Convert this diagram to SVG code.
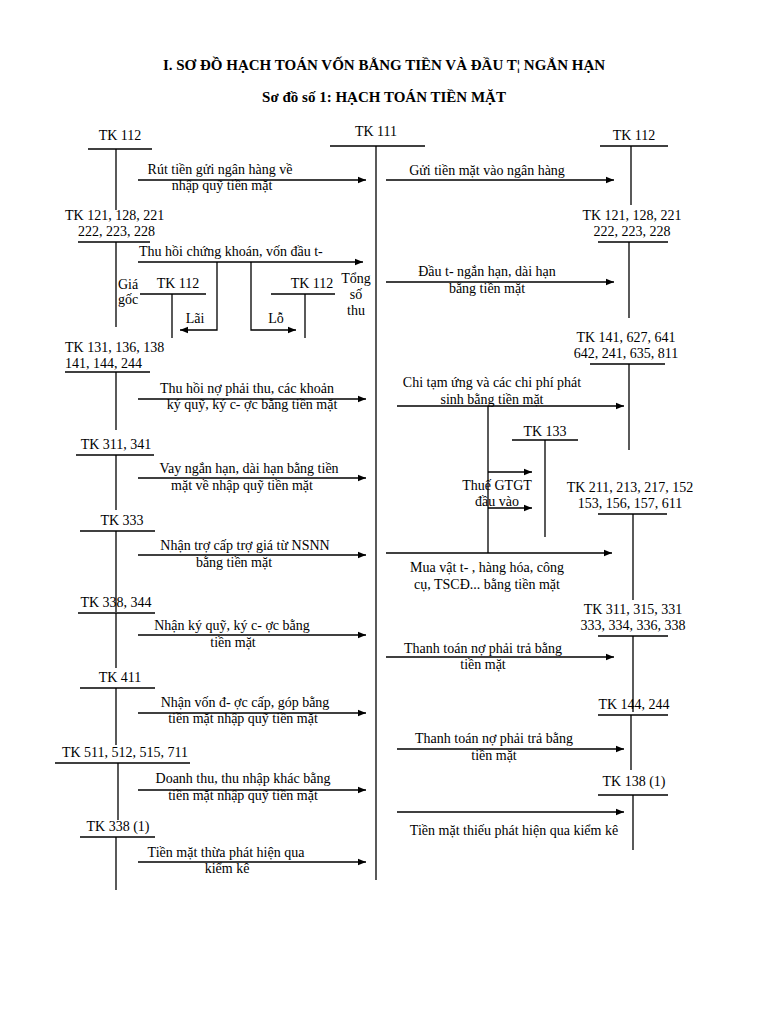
<svg xmlns="http://www.w3.org/2000/svg" width="768" height="1024" viewBox="0 0 768 1024">
<defs>
<marker id="ah" viewBox="0 0 10 10" refX="10" refY="5" markerWidth="8" markerHeight="8" orient="auto" markerUnits="userSpaceOnUse"><path d="M0,1 L10,5 L0,9 Z" fill="#000"/></marker>
<style>
text{font-family:"Liberation Serif",serif;font-size:14px;fill:#000}
.t{font-weight:bold;font-size:15px}
.m{text-anchor:middle}
line,polyline{stroke:#000;stroke-width:1.3;fill:none}
.a{marker-end:url(#ah)}
</style>
</defs>
<rect width="768" height="1024" fill="#fff"/>
<text class="t m" x="384" y="70">I. SƠ ĐỒ HẠCH TOÁN VỐN BẰNG TIỀN VÀ ĐẦU T¦ NGẮN HẠN</text>
<text class="t m" x="384" y="102">Sơ đồ số 1: HẠCH TOÁN TIỀN MẶT</text>
<g id="tk111"><text class="m" x="376" y="136">TK 111</text><line x1="330" y1="146" x2="425" y2="146"/><line x1="376" y1="146" x2="376" y2="880"/></g>
<g id="l112"><text class="m" x="120" y="140">TK 112</text><line x1="88" y1="149" x2="152" y2="149"/><line x1="116" y1="149" x2="116" y2="210"/></g>
<g id="l121"><text x="65" y="220">TK 121, 128, 221</text><text x="78" y="236">222, 223, 228</text><line x1="78" y1="242" x2="150" y2="242"/><line x1="116" y1="242" x2="116" y2="327"/></g>
<g id="s112a"><text class="m" x="178" y="288">TK 112</text><line x1="140" y1="294" x2="206" y2="294"/><line x1="172" y1="294" x2="172" y2="338"/></g>
<g id="s112b"><text class="m" x="312" y="288">TK 112</text><line x1="271" y1="294" x2="335" y2="294"/><line x1="305" y1="294" x2="305" y2="338"/></g>
<g id="l131"><text x="65" y="352">TK 131, 136, 138</text><text x="65" y="368">141, 144, 244</text><line x1="65" y1="372" x2="150" y2="372"/><line x1="116" y1="372" x2="116" y2="430"/></g>
<g id="l311"><text class="m" x="116" y="449">TK 311, 341</text><line x1="76" y1="455" x2="154" y2="455"/><line x1="116" y1="455" x2="116" y2="510"/></g>
<g id="l333"><text class="m" x="122" y="525">TK 333</text><line x1="80" y1="531" x2="155" y2="531"/><line x1="116" y1="531" x2="116" y2="612"/></g>
<g id="l338"><text class="m" x="116" y="607">TK 338, 344</text><line x1="78" y1="613" x2="155" y2="613"/><line x1="116" y1="613" x2="116" y2="668"/></g>
<g id="l411"><text class="m" x="120" y="682">TK 411</text><line x1="80" y1="688" x2="155" y2="688"/><line x1="116" y1="688" x2="116" y2="745"/></g>
<g id="l511"><text class="m" x="125" y="757">TK 511, 512, 515, 711</text><line x1="55" y1="763" x2="190" y2="763"/><line x1="118" y1="763" x2="118" y2="820"/></g>
<g id="l3381"><text class="m" x="118" y="831">TK 338 (1)</text><line x1="80" y1="837" x2="155" y2="837"/><line x1="116" y1="837" x2="116" y2="890"/></g>
<g id="r112"><text class="m" x="634" y="140">TK 112</text><line x1="600" y1="146" x2="668" y2="146"/><line x1="631" y1="146" x2="631" y2="205"/></g>
<g id="r121"><text class="m" x="632" y="220">TK 121, 128, 221</text><text class="m" x="632" y="236">222, 223, 228</text><line x1="598" y1="242" x2="668" y2="242"/><line x1="629" y1="242" x2="629" y2="318"/></g>
<g id="r141"><text class="m" x="626" y="342">TK 141, 627, 641</text><text class="m" x="626" y="358">642, 241, 635, 811</text><line x1="590" y1="364" x2="665" y2="364"/><line x1="629" y1="364" x2="629" y2="450"/></g>
<g id="r133"><text class="m" x="545" y="436">TK 133</text><line x1="512" y1="440" x2="578" y2="440"/><line x1="545" y1="440" x2="545" y2="537"/></g>
<g id="r211"><text class="m" x="630" y="492">TK 211, 213, 217, 152</text><text class="m" x="630" y="508">153, 156, 157, 611</text><line x1="598" y1="514" x2="667" y2="514"/><line x1="633" y1="514" x2="633" y2="600"/></g>
<g id="r311"><text class="m" x="633" y="614">TK 311, 315, 331</text><text class="m" x="633" y="630">333, 334, 336, 338</text><line x1="598" y1="636" x2="668" y2="636"/><line x1="633" y1="636" x2="633" y2="712"/></g>
<g id="r144"><text class="m" x="634" y="709">TK 144, 244</text><line x1="598" y1="715" x2="668" y2="715"/><line x1="631" y1="715" x2="631" y2="770"/></g>
<g id="r138"><text class="m" x="634" y="786">TK 138 (1)</text><line x1="598" y1="795" x2="668" y2="795"/><line x1="633" y1="795" x2="633" y2="850"/></g>
<g id="connectors">
<line class="a" x1="138" y1="180" x2="366" y2="180"/>
<line class="a" x1="138" y1="262" x2="363" y2="262"/>
<polyline class="a" points="217,262 217,330 180,330"/>
<polyline class="a" points="251,262 251,330 296,330"/>
<line class="a" x1="138" y1="399" x2="366" y2="399"/>
<line class="a" x1="138" y1="478" x2="366" y2="478"/>
<line class="a" x1="138" y1="555" x2="366" y2="555"/>
<line class="a" x1="138" y1="635" x2="366" y2="635"/>
<line class="a" x1="138" y1="713" x2="366" y2="713"/>
<line class="a" x1="138" y1="790" x2="366" y2="790"/>
<line class="a" x1="138" y1="862" x2="366" y2="862"/>
<line class="a" x1="386" y1="180" x2="614" y2="180"/>
<line class="a" x1="386" y1="282" x2="614" y2="282"/>
<line class="a" x1="397" y1="406" x2="624" y2="406"/>
<polyline points="488,406 488,553"/>
<polyline class="a" points="488,472 532,472"/>
<polyline class="a" points="488,508 532,508"/>
<line class="a" x1="386" y1="553" x2="612" y2="553"/>
<line class="a" x1="386" y1="657" x2="614" y2="657"/>
<line class="a" x1="397" y1="749" x2="624" y2="749"/>
<line class="a" x1="397" y1="812" x2="624" y2="812"/>
</g>
<g id="labels">
<text class="m" x="220" y="174">Rút tiền gửi ngân hàng về</text>
<text class="m" x="222" y="190">nhập quỹ tiền mặt</text>
<text x="139" y="256">Thu hồi chứng khoán, vốn đầu t-</text>
<text x="118" y="289">Giá</text><text x="118" y="304">gốc</text>
<text class="m" x="195" y="323">Lãi</text><text class="m" x="276" y="323">Lỗ</text>
<text class="m" x="356" y="283">Tổng</text><text class="m" x="356" y="299">số</text><text class="m" x="356" y="315">thu</text>
<text class="m" x="247" y="393">Thu hồi nợ phải thu, các khoản</text>
<text class="m" x="252" y="409">ký quỹ, ký c- ợc bằng tiền mặt</text>
<text class="m" x="249" y="473">Vay ngắn hạn, dài hạn bằng tiền</text>
<text class="m" x="242" y="490">mặt về nhập quỹ tiền mặt</text>
<text class="m" x="245" y="550">Nhận trợ cấp trợ giá từ NSNN</text>
<text class="m" x="234" y="567">bằng tiền mặt</text>
<text class="m" x="232" y="630">Nhận ký quỹ, ký c- ợc bằng</text>
<text class="m" x="233" y="647">tiền mặt</text>
<text class="m" x="245" y="707">Nhận vốn đ- ợc cấp, góp bằng</text>
<text class="m" x="243" y="723">tiền mặt nhập quỹ tiền mặt</text>
<text class="m" x="243" y="783">Doanh thu, thu nhập khác bằng</text>
<text class="m" x="243" y="800">tiền mặt nhập quỹ tiền mặt</text>
<text class="m" x="226" y="857">Tiền mặt thừa phát hiện qua</text>
<text class="m" x="227" y="873">kiểm kê</text>
<text class="m" x="487" y="175">Gửi tiền mặt vào ngân hàng</text>
<text class="m" x="487" y="276">Đầu t- ngắn hạn, dài hạn</text>
<text class="m" x="487" y="293">bằng tiền mặt</text>
<text class="m" x="492" y="387">Chi tạm ứng và các chi phí phát</text>
<text class="m" x="492" y="404">sinh bằng tiền mặt</text>
<text class="m" x="497" y="490">Thuế GTGT</text>
<text class="m" x="497" y="506">đầu vào</text>
<text class="m" x="487" y="572">Mua vật t- , hàng hóa, công</text>
<text class="m" x="487" y="589">cụ, TSCĐ... bằng tiền mặt</text>
<text class="m" x="483" y="653">Thanh toán nợ phải trả bằng</text>
<text class="m" x="483" y="669">tiền mặt</text>
<text class="m" x="494" y="743">Thanh toán nợ phải trả bằng</text>
<text class="m" x="494" y="760">tiền mặt</text>
<text class="m" x="514" y="835">Tiền mặt thiếu phát hiện qua kiểm kê</text>
</g>
</svg>
